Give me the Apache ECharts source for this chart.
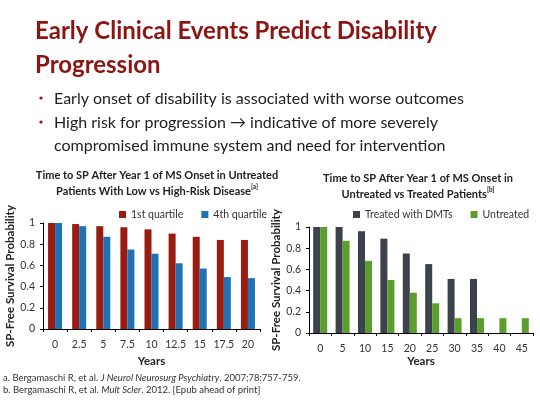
<!DOCTYPE html>
<html><head><meta charset="utf-8">
<script src="https://cdn.jsdelivr.net/npm/echarts@6/dist/echarts.min.js"></script>
<style>html,body{margin:0;padding:0;background:#fff}#c{width:540px;height:405px}</style>
</head><body><div id="c"></div>
<script>
const leftCats = ['0','2.5','5','7.5','10','12.5','15','17.5','20'];
const q1 = [1,0.99,0.97,0.96,0.94,0.90,0.87,0.84,0.84];
const q4 = [1,0.97,0.87,0.75,0.71,0.62,0.57,0.49,0.48];
const rightCats = ['0','5','10','15','20','25','30','35','40','45'];
const treated = [1,1,0.96,0.89,0.75,0.65,0.51,0.51,null,null];
const untreated = [1,0.87,0.68,0.50,0.38,0.28,0.14,0.14,0.14,0.14];
const yTicks = {min:0, max:1, interval:0.2};

const F = 'Lato, "Liberation Sans", sans-serif';
const chart = echarts.init(document.getElementById('c'), null, {renderer:'canvas'});
const axisLine = {show:true, lineStyle:{color:'#000', width:1}};
const xAx = (gi, cats, gap) => ({
  type:'category', gridIndex:gi, data:cats, name:'Years', nameLocation:'middle', nameGap:gap,
  nameTextStyle:{fontFamily:F, fontWeight:'bold', fontSize:11.5, color:'#222'},
  axisLine, axisTick:{show:true, length:3, lineStyle:{color:'#000'}},
  axisLabel:{fontFamily:F, fontSize:10.5, color:'#333', margin:10, interval:0}
});
const yAx = (gi, gap) => ({
  type:'value', gridIndex:gi, min:yTicks.min, max:yTicks.max, interval:yTicks.interval,
  name:'SP-Free Survival Probability', nameLocation:'middle', nameRotate:90, nameGap:gap,
  nameTextStyle:{fontFamily:F, fontWeight:'bold', fontSize:11.5, color:'#222'},
  axisLine, axisTick:{show:true, length:3, lineStyle:{color:'#000'}},
  splitLine:{show:false},
  axisLabel:{fontFamily:F, fontSize:10.5, color:'#333', margin:8}
});
const sup = {fontFamily:F, fontSize:6.5, fontWeight:'bold', color:'#222', verticalAlign:'top', padding:[0,0,7,0]};
const ttl = {fontFamily:F, fontSize:11, fontWeight:'bold', color:'#222', lineHeight:16};

chart.setOption({
  animation:false,
  textStyle:{fontFamily:F},
  title:[
    {text:'Early Clinical Events Predict Disability\nProgression', left:30, top:9,
     textStyle:{fontFamily:F, fontSize:24, fontWeight:'bold', color:'#8b1512', lineHeight:34}},
    {text:'Time to SP After Year 1 of MS Onset in Untreated\nPatients With Low vs High-Risk Disease{s|[a]}', left:152, top:162, textAlign:'center',
     textStyle:Object.assign({}, ttl, {rich:{s:sup}})},
    {text:'Time to SP After Year 1 of MS Onset in\nUntreated vs Treated Patients{s|[b]}', left:413, top:165, textAlign:'center',
     textStyle:Object.assign({}, ttl, {rich:{s:sup}})}
  ],
  legend:[
    {data:['1st quartile','4th quartile'], left:114, top:204, itemWidth:7, itemHeight:7, itemGap:18, icon:'rect',
     textStyle:{fontFamily:F, fontSize:10.5, color:'#333'}},
    {data:['Treated with DMTs','Untreated'], left:348, top:204, itemWidth:7, itemHeight:7, itemGap:18, icon:'rect',
     textStyle:{fontFamily:F, fontSize:10.5, color:'#333'}}
  ],
  grid:[
    {left:43, top:223, width:217, height:106},
    {left:309, top:227, width:224, height:106}
  ],
  xAxis:[xAx(0, leftCats, 26), xAx(1, rightCats, 22)],
  yAxis:[yAx(0, 25), yAx(1, 22)],
  series:[
    {name:'1st quartile', type:'bar', xAxisIndex:0, yAxisIndex:0, data:q1, barWidth:7, barGap:'0%', itemStyle:{color:'#9a1b10'}},
    {name:'4th quartile', type:'bar', xAxisIndex:0, yAxisIndex:0, data:q4, barWidth:7, barGap:'0%', itemStyle:{color:'#1d73b6'}},
    {name:'Treated with DMTs', type:'bar', xAxisIndex:1, yAxisIndex:1, data:treated, barWidth:7, barGap:'0%', itemStyle:{color:'#3b424b'}},
    {name:'Untreated', type:'bar', xAxisIndex:1, yAxisIndex:1, data:untreated, barWidth:7, barGap:'0%', itemStyle:{color:'#5c9e2b'}}
  ],
  graphic:[
    {type:'circle', shape:{cx:41, cy:98, r:1.6}, style:{fill:'#8b1512'}},
    {type:'circle', shape:{cx:41, cy:122, r:1.6}, style:{fill:'#8b1512'}},
    {type:'text', x:54, y:99, style:{text:'Early onset of disability is associated with worse outcomes', fontFamily:F, fontSize:16, fill:'#222', verticalAlign:'middle'}},
    {type:'text', x:54, y:123, style:{text:'High risk for progression \u2192 indicative of more severely', fontFamily:F, fontSize:16, fill:'#222', verticalAlign:'middle'}},
    {type:'text', x:54, y:146, style:{text:'compromised immune system and need for intervention', fontFamily:F, fontSize:16, fill:'#222', verticalAlign:'middle'}},
    {type:'text', x:3, y:378, style:{
      text:'a. Bergamaschi R, et al. {i|J Neurol Neurosurg Psychiatry}. 2007;78:757-759.',
      fontFamily:F, fontSize:9.5, fill:'#333', verticalAlign:'middle',
      rich:{i:{fontFamily:F, fontSize:9.5, fontStyle:'italic', fill:'#333'}}}},
    {type:'text', x:3, y:390, style:{
      text:'b. Bergamaschi R, et al. {i|Mult Scler}. 2012. [Epub ahead of print]',
      fontFamily:F, fontSize:9.5, fill:'#333', verticalAlign:'middle',
      rich:{i:{fontFamily:F, fontSize:9.5, fontStyle:'italic', fill:'#333'}}}}
  ]
});
</script></body></html>
